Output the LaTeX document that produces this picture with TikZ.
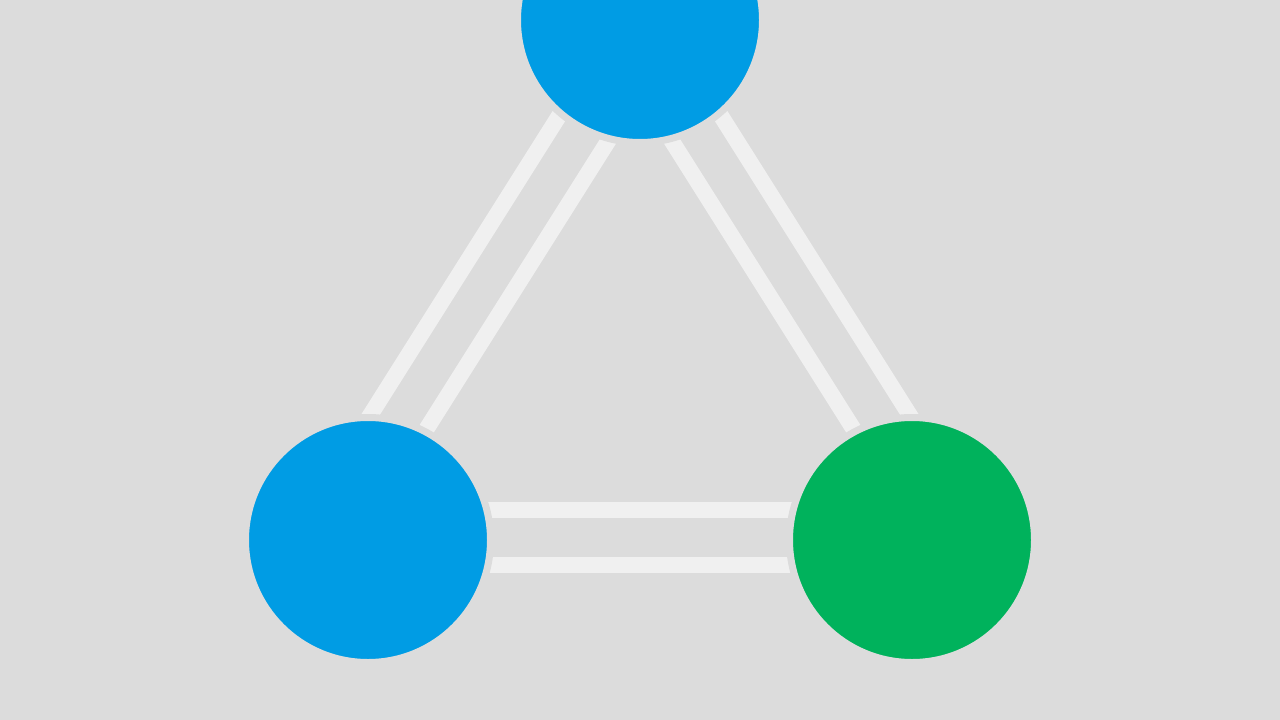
\documentclass[tikz,border=0pt]{standalone}
\usetikzlibrary{calc}
\definecolor{bg}{HTML}{DCDCDC}
\definecolor{linec}{HTML}{F0F0F0}
\definecolor{blu}{HTML}{009CE4}
\definecolor{grn}{HTML}{00B25C}
\tikzset{
  dot/.style={circle, minimum size=245pt, inner sep=0pt, draw=bg, line width=7pt},
  bond/.style={draw=linec, line width=16pt}
}
\begin{document}
\begin{tikzpicture}[x=1pt,y=-1pt]
\fill[bg] (0,0) rectangle (1280,720);
\useasboundingbox (0,0) rectangle (1280,720);
\coordinate (T) at (640,20);
\coordinate (L) at (368,540);
\coordinate (R) at (912,540);
% end points of the bond pairs
\coordinate (TL) at ($(T)+(12,0)$);
\coordinate (LT) at ($(L)+(-44,0)$);
\coordinate (TR) at ($(T)+(-12,0)$);
\coordinate (RT) at ($(R)+(44,0)$);
\coordinate (LR) at ($(L)+(0,-2.5)$);
\coordinate (RL) at ($(R)+(0,-2.5)$);
% double bonds
\foreach \a/\b in {TL/LT, LR/RL, RT/TR}{
  \draw[bond] ($(\a)!27.5pt!90:(\b)$) -- ($(\b)!27.5pt!-90:(\a)$);
  \draw[bond] ($(\a)!27.5pt!-90:(\b)$) -- ($(\b)!27.5pt!90:(\a)$);
}
\node[dot, fill=blu] (top) at (T) {};
\node[dot, fill=blu] (left) at (L) {};
\node[dot, fill=grn] (right) at (R) {};
\end{tikzpicture}
\end{document}
